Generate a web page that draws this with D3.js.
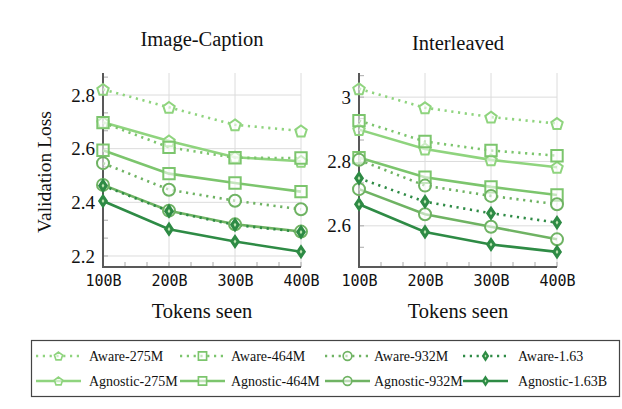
<!DOCTYPE html>
<html><head><meta charset="utf-8">
<script src="https://cdn.jsdelivr.net/npm/d3@7"></script>
<style>body{margin:0;background:#fff}svg{display:block}</style>
</head><body>
<script>
// ---- data ----
const tokens = [100, 200, 300, 400];
const tickLabels = ["100B", "200B", "300B", "400B"];
const panelTitles = ["Image-Caption", "Interleaved"];
const sizes = ["275M", "464M", "932M", "1.63B"];
const legendNames = ["Aware-275M", "Aware-464M", "Aware-932M", "Aware-1.63",
                     "Agnostic-275M", "Agnostic-464M", "Agnostic-932M", "Agnostic-1.63B"];
const leftYTicks = [2.2, 2.4, 2.6, 2.8];
const rightYTicks = [2.6, 2.8, 3.0];
// Image-Caption
const icAware275 = [2.821, 2.754, 2.689, 2.666];
const icAgnostic275 = [2.698, 2.629, 2.568, 2.553];
const icAware464 = [2.697, 2.605, 2.566, 2.565];
const icAgnostic464 = [2.594, 2.507, 2.472, 2.440];
const icAware932 = [2.546, 2.447, 2.406, 2.374];
const icAgnostic932 = [2.465, 2.369, 2.318, 2.291];
const icAware163 = [2.462, 2.367, 2.316, 2.289];
const icAgnostic163 = [2.405, 2.300, 2.254, 2.216];
// Interleaved
const ilAware275 = [3.026, 2.967, 2.938, 2.918];
const ilAgnostic275 = [2.899, 2.839, 2.805, 2.782];
const ilAware464 = [2.927, 2.862, 2.834, 2.818];
const ilAgnostic464 = [2.812, 2.751, 2.721, 2.696];
const ilAware932 = [2.805, 2.725, 2.693, 2.667];
const ilAgnostic932 = [2.714, 2.636, 2.597, 2.558];
const ilAware163 = [2.748, 2.675, 2.639, 2.610];
const ilAgnostic163 = [2.667, 2.581, 2.542, 2.519];

const colors = ["#8fd47e", "#7cc56d", "#6fb363", "#2e8b45"];

const W = 622, H = 409;
const svg = d3.select("body").append("svg").attr("width", W).attr("height", H);
const serif = "'Liberation Serif', 'DejaVu Serif', serif";
const mono = "'DejaVu Sans Mono', monospace";
const dotted = "2.2 4.6";

function markerPath(kind, r) {
  if (kind === 0) { // pentagon
    const pts = d3.range(5).map(i => {
      const a = -Math.PI / 2 + i * 2 * Math.PI / 5;
      return [r * Math.cos(a), r * Math.sin(a) + r * 0.1];
    });
    return "M" + pts.map(p => p.join(",")).join("L") + "Z";
  }
  if (kind === 1) { const s = r * 0.95; return `M${-s},${-s}H${s}V${s}H${-s}Z`; }
  if (kind === 2) return d3.symbol(d3.symbolCircle, Math.PI * r * r)();
  const w = r * 0.7, h = r * 1.05; return `M0,${-h}L${w},0L0,${h}L${-w},0Z`;
}
function drawMarker(g, kind, x, y, color, scale) {
  const r = (kind === 3 ? 5.5 : 6) * scale;
  g.append("path").attr("d", markerPath(kind, r)).attr("transform", `translate(${x},${y})`)
    .attr("fill", kind === 3 ? color : "#fff").attr("fill-opacity", kind === 3 ? 1 : 0.55)
    .attr("stroke", color).attr("stroke-width", 2 * Math.min(1, scale + 0.1));
  if (kind === 3) g.append("path").attr("d", markerPath(kind, 2 * scale)).attr("transform", `translate(${x},${y})`).attr("fill", "#bfe6b4");
}

const panels = [
  { title: panelTitles[0], x0: 103, x1: 301, yDomain: [2.159, 2.882], ticks: leftYTicks, titleY: 46,
    aware: [icAware275, icAware464, icAware932, icAware163],
    agnostic: [icAgnostic275, icAgnostic464, icAgnostic932, icAgnostic163] },
  { title: panelTitles[1], x0: 359, x1: 557, yDomain: [2.472, 3.075], ticks: rightYTicks, titleY: 50,
    aware: [ilAware275, ilAware464, ilAware932, ilAware163],
    agnostic: [ilAgnostic275, ilAgnostic464, ilAgnostic932, ilAgnostic163] }
];
const yTop = 73, yBot = 267;

panels.forEach(p => {
  const x = d3.scaleLinear().domain([100, 400]).range([p.x0, p.x1]);
  const y = d3.scaleLinear().domain(p.yDomain).range([yBot, yTop]);
  const g = svg.append("g");
  // grid
  g.selectAll(".gx").data(tokens).enter().append("line")
    .attr("x1", d => x(d)).attr("x2", d => x(d)).attr("y1", yTop).attr("y2", yBot)
    .attr("stroke", "#dcdcdc").attr("stroke-width", 1);
  g.selectAll(".gy").data(p.ticks).enter().append("line")
    .attr("x1", p.x0).attr("x2", p.x1).attr("y1", d => y(d)).attr("y2", d => y(d))
    .attr("stroke", "#dcdcdc").attr("stroke-width", 1);
  // minor ticks
  const step = p.ticks[1] - p.ticks[0];
  const minorY = [];
  for (let v = p.ticks[0] - step; v < p.yDomain[1]; v += step / 3) {
    if (v > p.yDomain[0] && v < p.yDomain[1]) minorY.push(v);
  }
  g.selectAll(".my").data(minorY).enter().append("line")
    .attr("x1", p.x0).attr("x2", p.x0 + 5).attr("y1", d => y(d)).attr("y2", d => y(d))
    .attr("stroke", "#aaa").attr("stroke-width", 1);
  const minorX = [];
  for (let v = 100; v <= 400; v += 100 / 3) minorX.push(v);
  g.selectAll(".mx").data(minorX).enter().append("line")
    .attr("x1", d => x(d)).attr("x2", d => x(d)).attr("y1", yBot).attr("y2", yBot - 5)
    .attr("stroke", "#aaa").attr("stroke-width", 1);
  // axes
  const ya = d3.axisLeft(y).tickValues(p.ticks).tickSize(0).tickPadding(8)
    .tickFormat(d => d === 3 ? "3" : d3.format(".1f")(d));
  const yg = g.append("g").attr("transform", `translate(${p.x0},0)`).call(ya);
  yg.select(".domain").remove();
  yg.selectAll("text").attr("font-family", serif).attr("font-size", 19).attr("fill", "#111");
  const xa = d3.axisBottom(x).tickValues(tokens).tickSize(0).tickPadding(8)
    .tickFormat((d, i) => tickLabels[i]);
  const xg = g.append("g").attr("transform", `translate(0,${yBot})`).call(xa);
  xg.select(".domain").remove();
  xg.selectAll("text").attr("font-family", mono).attr("font-size", 15).attr("fill", "#111");
  g.append("line").attr("x1", p.x0).attr("x2", p.x0).attr("y1", yTop).attr("y2", yBot + 1)
    .attr("stroke", "#595959").attr("stroke-width", 2);
  g.append("line").attr("x1", p.x0 - 1).attr("x2", p.x1).attr("y1", yBot).attr("y2", yBot)
    .attr("stroke", "#595959").attr("stroke-width", 2);
  // series
  const line = d3.line().x((d, i) => x(tokens[i])).y(d => y(d));
  for (let k = 0; k < 4; k++) {
    g.append("path").datum(p.agnostic[k]).attr("d", line).attr("fill", "none")
      .attr("stroke", colors[k]).attr("stroke-width", 2.6);
    g.append("path").datum(p.aware[k]).attr("d", line).attr("fill", "none")
      .attr("stroke", colors[k]).attr("stroke-width", 2.6).attr("stroke-dasharray", dotted);
  }
  for (let k = 0; k < 4; k++) {
    p.aware[k].forEach((v, i) => drawMarker(g, k, x(tokens[i]), y(v), colors[k], 1));
    p.agnostic[k].forEach((v, i) => drawMarker(g, k, x(tokens[i]), y(v), colors[k], 1));
  }
  // titles
  const cx = (p.x0 + p.x1) / 2;
  svg.append("text").attr("x", cx).attr("y", p.titleY).attr("text-anchor", "middle")
    .attr("font-family", serif).attr("font-size", 20.5).attr("fill", "#111").text(p.title);
  svg.append("text").attr("x", cx).attr("y", 318).attr("text-anchor", "middle")
    .attr("font-family", serif).attr("font-size", 20.5).attr("fill", "#111").text("Tokens seen");
});

svg.append("text").attr("transform", "translate(51,172) rotate(-90)").attr("text-anchor", "middle")
  .attr("font-family", serif).attr("font-size", 19.5).attr("fill", "#111").text("Validation Loss");

// legend
svg.append("rect").attr("x", 31.5).attr("y", 340.5).attr("width", 588).attr("height", 56)
  .attr("fill", "#fff").attr("stroke", "#444").attr("stroke-width", 1.2);
const colX = [36, 180, 325, 463];
const textX = [89, 231, 374, 518];
const rowY = [356, 381];
legendNames.forEach((name, idx) => {
  const row = idx < 4 ? 0 : 1, k = idx % 4;
  const lx = colX[k], ly = rowY[row];
  const lg = svg.append("g");
  lg.append("line").attr("x1", lx).attr("x2", lx + 45).attr("y1", ly).attr("y2", ly)
    .attr("stroke", colors[k]).attr("stroke-width", 2.6)
    .attr("stroke-dasharray", row === 0 ? dotted : null);
  drawMarker(lg, k, lx + 22.5, ly, colors[k], 0.72);
  lg.append("text").attr("x", textX[k]).attr("y", ly + 5).attr("font-family", serif)
    .attr("font-size", 14).attr("fill", "#111").text(name);
});
</script>
</body></html>
